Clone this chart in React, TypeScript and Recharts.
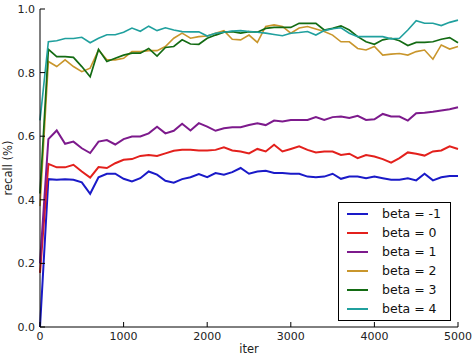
import { LineChart, Line, XAxis, YAxis, Legend } from "recharts";

const FONT = "'DejaVu Sans', 'Bitstream Vera Sans', sans-serif";

const iters = [
  0, 100, 200, 300, 400, 500, 600, 700, 800, 900, 1000, 1100, 1200, 1300, 1400, 1500, 1600,
  1700, 1800, 1900, 2000, 2100, 2200, 2300, 2400, 2500, 2600, 2700, 2800, 2900, 3000, 3100,
  3200, 3300, 3400, 3500, 3600, 3700, 3800, 3900, 4000, 4100, 4200, 4300, 4400, 4500, 4600,
  4700, 4800, 4900, 5000,
];

const betaM1 = [
  0.0, 0.465, 0.463, 0.465, 0.463, 0.455, 0.419, 0.471, 0.482, 0.482, 0.466, 0.458, 0.468,
  0.489, 0.479, 0.46, 0.454, 0.465, 0.471, 0.481, 0.471, 0.484, 0.479, 0.487, 0.5, 0.482,
  0.489, 0.491, 0.484, 0.484, 0.482, 0.482, 0.473, 0.471, 0.473, 0.482, 0.466, 0.473, 0.473,
  0.468, 0.473, 0.468, 0.463, 0.463, 0.468, 0.461, 0.482, 0.461, 0.471, 0.475, 0.475,
];

const beta0 = [
  0.17, 0.513, 0.502, 0.502, 0.51, 0.489, 0.47, 0.503, 0.5, 0.515, 0.526, 0.528, 0.538, 0.541,
  0.538, 0.546, 0.554, 0.557, 0.557, 0.555, 0.555, 0.557, 0.565, 0.555, 0.552, 0.546, 0.56,
  0.552, 0.573, 0.552, 0.56, 0.568, 0.557, 0.549, 0.552, 0.552, 0.541, 0.545, 0.531, 0.541,
  0.536, 0.528, 0.517, 0.531, 0.549, 0.545, 0.539, 0.552, 0.555, 0.568, 0.56,
];

const beta1 = [
  0.2, 0.591, 0.618, 0.576, 0.583, 0.562, 0.547, 0.583, 0.588, 0.574, 0.591, 0.599, 0.599,
  0.609, 0.63, 0.609, 0.617, 0.639, 0.618, 0.641, 0.63, 0.617, 0.625, 0.628, 0.628, 0.635,
  0.641, 0.635, 0.649, 0.646, 0.651, 0.651, 0.651, 0.66, 0.651, 0.66, 0.662, 0.657, 0.664,
  0.651, 0.653, 0.67, 0.662, 0.662, 0.649, 0.672, 0.674, 0.677, 0.681, 0.685, 0.691,
];

const beta2 = [
  0.38, 0.835, 0.819, 0.84, 0.819, 0.803, 0.814, 0.871, 0.84, 0.84, 0.845, 0.866, 0.866,
  0.869, 0.869, 0.882, 0.908, 0.924, 0.908, 0.913, 0.915, 0.924, 0.932, 0.905, 0.903, 0.918,
  0.895, 0.945, 0.95, 0.945, 0.924, 0.94, 0.945, 0.937, 0.929, 0.918, 0.897, 0.897, 0.876,
  0.871, 0.882, 0.855, 0.858, 0.86, 0.855, 0.866, 0.871, 0.842, 0.887, 0.874, 0.882,
];

const beta3 = [
  0.42, 0.873, 0.85, 0.85, 0.848, 0.819, 0.787, 0.873, 0.835, 0.845, 0.855, 0.861, 0.861,
  0.876, 0.852, 0.879, 0.882, 0.903, 0.89, 0.889, 0.908, 0.918, 0.927, 0.929, 0.924, 0.929,
  0.927, 0.939, 0.942, 0.942, 0.942, 0.955, 0.955, 0.955, 0.934, 0.939, 0.947, 0.934, 0.913,
  0.897, 0.889, 0.903, 0.908, 0.9, 0.885, 0.895, 0.895, 0.897, 0.905, 0.91, 0.894,
];

const beta4 = [
  0.65, 0.897, 0.9, 0.907, 0.907, 0.911, 0.894, 0.908, 0.919, 0.919, 0.927, 0.94, 0.93, 0.946,
  0.932, 0.941, 0.934, 0.929, 0.928, 0.928, 0.915, 0.924, 0.927, 0.931, 0.932, 0.929, 0.927,
  0.924, 0.92, 0.916, 0.924, 0.926, 0.929, 0.918, 0.932, 0.938, 0.941, 0.924, 0.913, 0.913,
  0.913, 0.913, 0.906, 0.908, 0.934, 0.963, 0.955, 0.955, 0.948, 0.958, 0.965,
];

const xTicks = [0, 1000, 2000, 3000, 4000, 5000];
const yTicks = [0, 0.2, 0.4, 0.6, 0.8, 1.0];

const series = [
  { key: "bm1", name: "beta = -1", values: betaM1, color: "#1a1ac8", width: 2 },
  { key: "b0", name: "beta = 0", values: beta0, color: "#e3201c", width: 2 },
  { key: "b1", name: "beta = 1", values: beta1, color: "#7d1a8c", width: 2 },
  { key: "b2", name: "beta = 2", values: beta2, color: "#c9962c", width: 1.6 },
  { key: "b3", name: "beta = 3", values: beta3, color: "#136b13", width: 1.7 },
  { key: "b4", name: "beta = 4", values: beta4, color: "#20a09e", width: 1.6 },
];

const data = iters.map((iter, i) => {
  const row: Record<string, number> = { iter };
  series.forEach((s) => {
    row[s.key] = s.values[i];
  });
  return row;
});

const tickStyle = { fill: "#222", fontSize: 11, fontFamily: FONT };

function BetaLegend() {
  return (
    <div
      style={{
        boxSizing: "border-box",
        width: 113,
        height: 119,
        border: "1px solid #000",
        background: "#fff",
        paddingTop: 1,
        fontFamily: FONT,
        fontSize: 12.5,
        color: "#111",
      }}
    >
      {series.map((s) => (
        <div key={s.key} style={{ display: "flex", alignItems: "center", height: 19 }}>
          <span
            style={{
              display: "inline-block",
              width: 21,
              borderTop: `${s.width + 0.5}px solid ${s.color}`,
              marginLeft: 8,
              marginRight: 14,
            }}
          />
          <span>{s.name}</span>
        </div>
      ))}
    </div>
  );
}

export default function App() {
  return (
    <div style={{ position: "absolute", left: 0, top: 0, background: "#fff" }}>
      <LineChart
        width={474}
        height={356}
        data={data}
        margin={{ top: 9, right: 16, left: 0, bottom: 0 }}
        style={{ fontFamily: FONT }}
      >
        <XAxis
          dataKey="iter"
          type="number"
          domain={[0, 5000]}
          ticks={xTicks}
          interval={0}
          height={29}
          tickSize={-5}
          tickMargin={10}
          tick={tickStyle}
          axisLine={{ stroke: "#000" }}
          tickLine={{ stroke: "#000" }}
          label={{
            content: ({ viewBox }: any) => (
              <text
                x={viewBox.x + viewBox.width / 2}
                y={353}
                textAnchor="middle"
                fill="#222"
                fontSize={11.5}
                fontFamily={FONT}
              >
                iter
              </text>
            ),
          }}
        />
        <XAxis
          xAxisId="top"
          orientation="top"
          dataKey="iter"
          type="number"
          domain={[0, 5000]}
          ticks={xTicks}
          interval={0}
          height={0}
          tickSize={-5}
          tickFormatter={() => ""}
          axisLine={{ stroke: "#000" }}
          tickLine={{ stroke: "#000" }}
        />
        <YAxis
          type="number"
          domain={[0, 1]}
          ticks={yTicks}
          interval={0}
          width={40}
          tickSize={-5}
          tickMargin={10}
          tick={tickStyle}
          tickFormatter={(v: number) => v.toFixed(1)}
          axisLine={{ stroke: "#000" }}
          tickLine={{ stroke: "#000" }}
          label={{
            content: ({ viewBox }: any) => {
              const cy = viewBox.y + viewBox.height / 2;
              return (
                <text
                  x={8}
                  y={cy}
                  transform={`rotate(-90, 8, ${cy})`}
                  textAnchor="middle"
                  dominantBaseline="central"
                  fill="#222"
                  fontSize={11.5}
                  fontFamily={FONT}
                >
                  recall (%)
                </text>
              );
            },
          }}
        />
        <YAxis
          yAxisId="right"
          orientation="right"
          type="number"
          domain={[0, 1]}
          ticks={yTicks}
          interval={0}
          width={0}
          tickSize={-5}
          tickFormatter={() => ""}
          axisLine={{ stroke: "#000" }}
          tickLine={{ stroke: "#000" }}
        />
        {series.map((s) => (
          <Line
            key={s.key}
            type="linear"
            dataKey={s.key}
            name={s.name}
            stroke={s.color}
            strokeWidth={s.width}
            dot={false}
            activeDot={false}
            isAnimationActive={false}
          />
        ))}
        <Legend
          layout="vertical"
          align="center"
          verticalAlign="middle"
          content={() => <BetaLegend />}
          wrapperStyle={{ left: 338, top: 202, width: 113, height: 119 }}
        />
      </LineChart>
    </div>
  );
}
